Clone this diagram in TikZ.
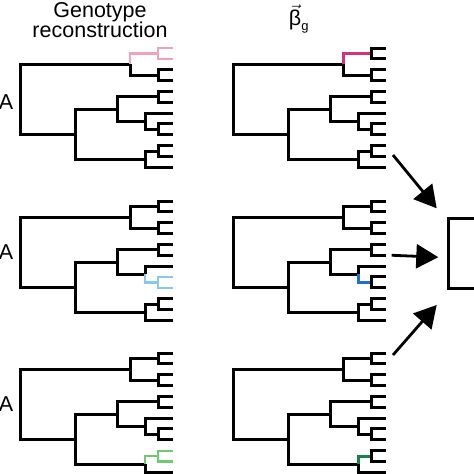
\documentclass[tikz,border=0pt]{standalone}
\usepackage{fontspec}
\setmainfont{Liberation Sans}
\usetikzlibrary{arrows.meta}
\definecolor{pink_light}{RGB}{242,162,182}
\definecolor{pink_dark}{RGB}{214,50,122}
\definecolor{blue_light}{RGB}{135,200,236}
\definecolor{blue_dark}{RGB}{32,112,208}
\definecolor{green_light}{RGB}{112,200,112}
\definecolor{green_dark}{RGB}{22,132,72}

\tikzset{
  branch/.style={line width=3pt},
  hlA stem/.style={}, hlA tips/.style={},
  hlB stem/.style={}, hlB tips/.style={},
  hlC stem/.style={}, hlC tips/.style={},
  bigarrow/.style={line width=2.8pt, -{Triangle[length=22pt,width=24pt]}},
}

% one cladogram: #1 prefix, #2 root x, #3 y of first tip
\newcommand{\cladogram}[3]{%
  \begin{scope}[shift={(#2,#3)}]
    \foreach \i/\ty in {1/0,2/10.85,3/21.7,4/32.55,5/43.4,6/54.25,7/65.1,
                        8/75.95,9/86.8,10/97.65,11/108.5,12/119.35}
      \coordinate (#1t\i) at (153,\ty);
    \coordinate (#1c12) at (138,5.43);
    \coordinate (#1c34) at (138,27.13);
    \coordinate (#1c56) at (138,48.83);
    \coordinate (#1c89) at (138,81.38);
    \coordinate (#1c1011) at (138,103.08);
    \coordinate (#1nA) at (110,16.28);
    \coordinate (#1n7) at (125,73.24);
    \coordinate (#1n10) at (125,111.21);
    \coordinate (#1n5) at (97,61.03);
    \coordinate (#1nB) at (55,86.12);
    \coordinate (#1r) at (0,51.2);
  \end{scope}
  \draw[branch] (#1r) |- (#1nA) (#1r) |- (#1nB);
  \draw[branch,hlA stem] (#1nA) |- (#1c12);
  \draw[branch] (#1nA) |- (#1c34);
  \draw[branch,hlA tips] (#1c12) |- (#1t1) (#1c12) |- (#1t2);
  \draw[branch] (#1c34) |- (#1t3) (#1c34) |- (#1t4);
  \draw[branch] (#1nB) |- (#1n5) (#1nB) |- (#1n10);
  \draw[branch] (#1n5) |- (#1c56) (#1n5) |- (#1n7);
  \draw[branch] (#1c56) |- (#1t5) (#1c56) |- (#1t6);
  \draw[branch] (#1n7) |- (#1t7);
  \draw[branch,hlB stem] (#1n7) |- (#1c89);
  \draw[branch,hlB tips] (#1c89) |- (#1t8) (#1c89) |- (#1t9);
  \draw[branch] (#1n10) |- (#1t12);
  \draw[branch,hlC stem] (#1n10) |- (#1c1011);
  \draw[branch,hlC tips] (#1c1011) |- (#1t10) (#1c1011) |- (#1t11);
}

\begin{document}
\begin{tikzpicture}[x=1pt, y=-1pt, font=\fontsize{21.5}{20.5}\selectfont]
  \useasboundingbox (0,0) rectangle (474,474);

  % Column titles
  \node[align=center] (titleL) at (100,20) {Genotype\\reconstruction};
  \node (titleR) at (299,19) {$\vec{\mbox{β}}_{\mbox{\fontsize{13}{13}\selectfont g}}$};

  % Side labels
  \node (labA1) at (6,101.7) {A};
  \node (labA2) at (6,252) {A};
  \node (labA3) at (6,404) {A};

  % Left column: reconstructed genotypes
  \begin{scope}[hlA stem/.style={draw=pink_light,line width=2.3pt},
                hlA tips/.style={draw=pink_light,line width=2.3pt}]
    \cladogram{L1}{20}{48}
  \end{scope}
  \begin{scope}[hlB stem/.style={draw=blue_light,line width=2.3pt},
                hlB tips/.style={draw=blue_light,line width=2.3pt}]
    \cladogram{L2}{20}{201}
  \end{scope}
  \begin{scope}[hlC stem/.style={draw=green_light,line width=2.3pt},
                hlC tips/.style={draw=green_light,line width=2.3pt}]
    \cladogram{L3}{20}{353}
  \end{scope}

  % Right column: effect on branches
  \begin{scope}[hlA stem/.style={draw=pink_dark}]
    \cladogram{R1}{233}{48}
  \end{scope}
  \begin{scope}[hlB stem/.style={draw=blue_dark}]
    \cladogram{R2}{233}{201}
  \end{scope}
  \begin{scope}[hlC stem/.style={draw=green_dark}]
    \cladogram{R3}{233}{353}
  \end{scope}

  % Output box
  \node[draw, line width=3pt, minimum width=60pt, minimum height=70pt,
        inner sep=0pt, anchor=north west] (outbox) at (447,217) {};

  % Arrows
  \draw[bigarrow] ([xshift=7pt,yshift=1.5pt]R1t11)
    -- ([xshift=-10.3pt,yshift=8.7pt]outbox.north west);
  \draw[bigarrow] ([xshift=5.7pt]R2t6)
    -- ([xshift=-8.7pt,yshift=-3.7pt]outbox.west);
  \draw[bigarrow] ([xshift=7pt,yshift=-2pt]R3t1)
    -- ([xshift=-10.3pt,yshift=-15pt]outbox.south west);
\end{tikzpicture}
\end{document}
